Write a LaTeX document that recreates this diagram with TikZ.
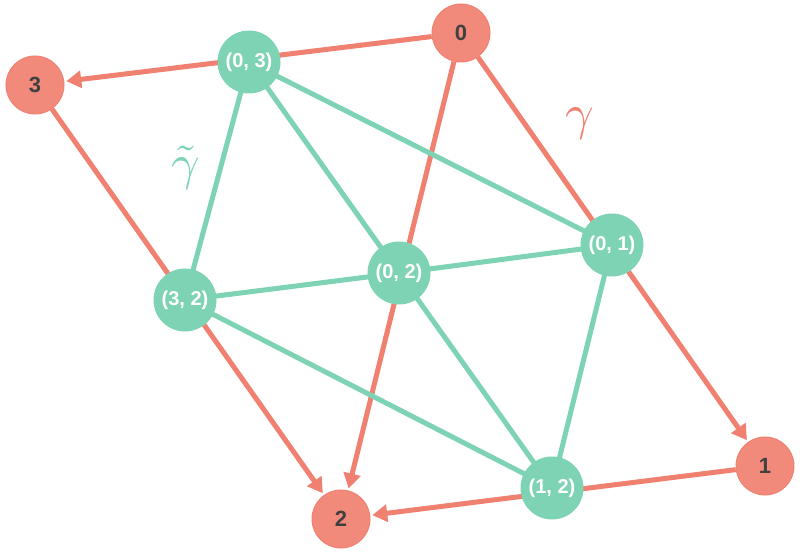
\documentclass[tikz,border=0pt]{standalone}
\usepackage{fontspec}
\setmainfont{Liberation Sans}
\usepackage{graphicx}
\usetikzlibrary{arrows.meta}
\definecolor{rd}{HTML}{F08070}
\definecolor{rdf}{HTML}{F28A7C}
\definecolor{gr}{HTML}{7DD3B4}
\begin{document}
\begin{tikzpicture}[x=1pt,y=-1pt,
  rnode/.style={circle,fill=rdf,draw=rd,line width=1pt,minimum size=58pt,inner sep=0pt,font=\fontsize{22}{22}\selectfont\bfseries,text=black!75},
  gnode/.style={circle,fill=gr,minimum size=63pt,inner sep=0pt,font=\fontsize{20}{20}\selectfont\bfseries,text=white},
  rarr/.style={draw=rd,line width=5pt,-{Triangle[length=15pt,width=17pt]},shorten >=2pt},
  gedge/.style={draw=gr,line width=5pt}]
\useasboundingbox (0,0) rectangle (800,553);
\node[rnode] (r0) at (461,33) {0};
\node[rnode] (r3) at (35,85) {3};
\node[rnode] (r2) at (341,519) {2};
\node[rnode] (r1) at (765,466) {1};
\path[rarr] (r0) -- (r3);
\path[rarr] (r0) -- (r2);
\path[rarr] (r0) -- (r1);
\path[rarr] (r3) -- (r2);
\path[rarr] (r1) -- (r2);
\coordinate (g03) at (249,62);
\coordinate (g32) at (185,300);
\coordinate (g02) at (399,273);
\coordinate (g01) at (612,245);
\coordinate (g12) at (552,488);
\path[gedge] (g03)--(g32) (g03)--(g02) (g03)--(g01) (g32)--(g02) (g32)--(g12) (g02)--(g01) (g02)--(g12) (g01)--(g12);
\node[gnode] (n03) at (g03) {(0, 3)};
\node[gnode] (n32) at (g32) {(3, 2)};
\node[gnode] (n02) at (g02) {(0, 2)};
\node[gnode] (n01) at (g01) {(0, 1)};
\node[gnode] (n12) at (g12) {(1, 2)};
\node[text=rd] (lg) at (580,124) {\scalebox{5}{$\gamma$}};
\node[text=gr] (lt) at (186,168) {\scalebox{5}{$\tilde{\gamma}$}};
\end{tikzpicture}
\end{document}
